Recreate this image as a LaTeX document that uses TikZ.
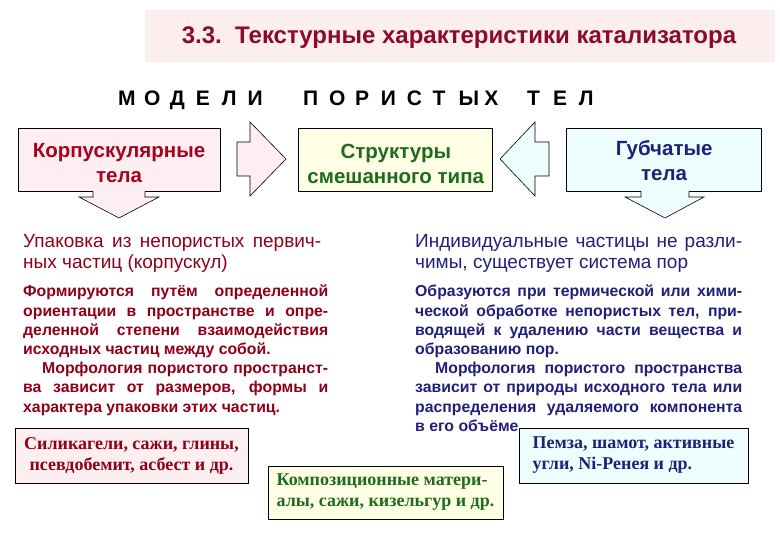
\documentclass[tikz,border=0pt]{standalone}
\usepackage{fontspec}
\setmainfont{Liberation Sans}
\newfontfamily\timesfont{Liberation Serif}
\usetikzlibrary{positioning, calc}

\definecolor{titlered}{HTML}{8C0A2C}
\definecolor{corpred}{HTML}{A8001E}
\definecolor{mixgreen}{HTML}{1E6B1E}
\definecolor{spongeblue}{HTML}{202078}
\definecolor{corpfill}{HTML}{FDEFF1}
\definecolor{mixfill}{HTML}{FFFFE6}
\definecolor{spongefill}{HTML}{EEFDFD}
\definecolor{bandfill}{HTML}{FCEEEE}

\newcommand\wideletter[1]{\makebox[25.9pt][l]{#1}}

\begin{document}
\begin{tikzpicture}[
  x=1pt, y=-1pt,
  node distance=78pt,
  modelbox/.style={rectangle, draw, line width=0.8pt, minimum height=63pt,
                   inner sep=0pt},
  modeltext/.style={align=center, inner sep=0pt,
                    font=\bfseries\fontsize{20.5}{25}\selectfont},
  spaced/.style={anchor=base west, inner sep=0pt,
                 font=\bfseries\fontsize{21}{24}\selectfont},
  headtext/.style={anchor=north west, inner sep=0pt, align=justify,
                   font=\fontsize{19}{21}\selectfont},
  bodytext/.style={anchor=north west, inner sep=0pt, align=justify,
                   font=\bfseries\fontsize{15.8}{19.2}\selectfont},
  examplebox/.style={rectangle, draw, line width=0.8pt, inner xsep=6pt,
                     font=\timesfont\bfseries\fontsize{18}{21}\selectfont},
  blockarrow/.style={draw, line width=0.6pt, line join=miter},
]
\useasboundingbox (0,0) rectangle (780,540);

% ---- заголовок ----
\fill[bandfill] (145,10) rectangle (775,62);
\node[font=\bfseries\fontsize{24}{28}\selectfont, text=titlered]
  (title) at (459,38) {3.3.\ \ Текстурные характеристики катализатора};

\node[spaced] (models) at (118,106)
  {\wideletter{М}\wideletter{О}\wideletter{Д}\wideletter{Е}\wideletter{Л}И};
\node[spaced] (porous) at (303,106)
  {\wideletter{П}\wideletter{О}\wideletter{Р}\wideletter{И}\wideletter{С}\wideletter{Т}\wideletter{Ы}Х};
\node[spaced] (bodies) at (527,106)
  {\wideletter{Т}\wideletter{Е}Л};

% ---- модели ----
\node[modelbox, fill=corpfill, minimum width=202pt] (corp) at (119,159.5) {};
\node[modelbox, fill=mixfill, minimum width=194pt, right=of corp] (mixed) {};
\node[modelbox, fill=spongefill, minimum width=195pt, right=73pt of mixed] (sponge) {};

\node[modeltext, text=corpred] (corptext) at ($(corp.center)+(0,4)$)
  {Корпускулярные\\тела};
\node[modeltext, text=mixgreen] (mixedtext) at ($(mixed.center)+(0,4)$)
  {Структуры\\смешанного типа};
\node[modeltext, text=spongeblue] (spongetext) at ($(sponge.center)+(0,1)$)
  {Губчатые\\тела};

% ---- стрелки ----
\filldraw[blockarrow, fill=corpfill] (237,142) -- (250,142) -- (250,122)
  -- (286,159) -- (250,196) -- (250,176) -- (237,176) -- cycle;
\filldraw[blockarrow, fill=spongefill] (549,142) -- (535,142) -- (535,122)
  -- (500,159) -- (535,196) -- (535,176) -- (549,176) -- cycle;

\fill[corpfill] (93,190) -- (93,197) -- (79,197) -- (119,218)
  -- (159,197) -- (145,197) -- (145,190) -- cycle;
\draw[blockarrow] (93,191.4) -- (93,197) -- (79,197) -- (119,218)
  -- (159,197) -- (145,197) -- (145,191.4);
\fill[spongefill] (641,190) -- (641,197) -- (625,197) -- (665,218)
  -- (704,197) -- (689,197) -- (689,190) -- cycle;
\draw[blockarrow] (641,191.4) -- (641,197) -- (625,197) -- (665,218)
  -- (704,197) -- (689,197) -- (689,191.4);

% ---- описания ----
\node[headtext, text=corpred!85!black, text width=298pt] (corphead) at (23,234)
  {Упаковка из непористых первич-\linebreak ных частиц (корпускул)};
\node[bodytext, text=corpred!85!black, text width=305pt] (corpbody) at (23,285)
  {Формируются путём определенной ориентации в пространстве и опре-\linebreak
   деленной степени взаимодействия\linebreak исходных частиц между собой.\par
   \hspace*{19pt}Морфология пористого пространст-\linebreak ва зависит от
   размеров, формы и\linebreak характера упаковки этих частиц.};

\node[headtext, text=spongeblue, text width=327pt] (spongehead) at (415,234)
  {Индивидуальные частицы не разли-\linebreak чимы, существует система пор};
\node[bodytext, text=spongeblue, text width=327pt] (spongebody) at (415,285)
  {Образуются при термической или хими-\linebreak ческой обработке
   непористых тел, при-\linebreak водящей к удалению части вещества и\linebreak
   образованию пор.\par
   \hspace*{20pt}Морфология пористого пространства\linebreak зависит от
   природы исходного тела или\linebreak распределения удаляемого
   компонента\linebreak в его объёме.};

% ---- примеры ----
\node[examplebox, fill=corpfill, text=corpred!85!black, minimum width=233pt,
      minimum height=55pt, align=center] (corpex) at (131.5,455.5)
  {Силикагели, сажи, глины,\\псевдобемит, асбест и др.};
\node[examplebox, fill=mixfill, text=mixgreen, minimum width=235pt,
      minimum height=53pt, inner xsep=3pt, align=left] (mixex) at (385.5,492.5)
  {Композиционные матери-\\алы, сажи, кизельгур и др.};
\node[examplebox, fill=spongefill, text=spongeblue, minimum width=229pt,
      minimum height=55pt, align=left] (spongeex) at (633.5,455.5)
  {Пемза, шамот, активные\\угли, Ni-Ренея и др.};

\end{tikzpicture}
\end{document}
